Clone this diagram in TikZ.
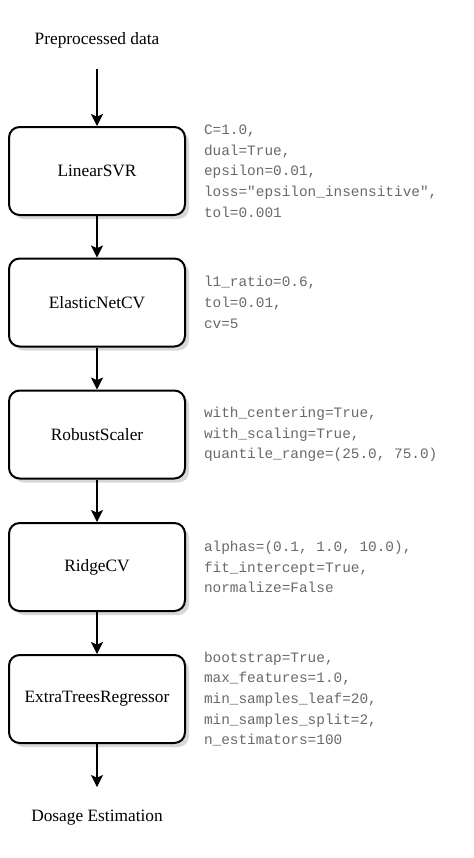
\documentclass[tikz,border=0pt]{standalone}
\usepackage{fontspec}
\setmainfont{Liberation Serif}
\newfontfamily\parfont{Liberation Mono}
\usetikzlibrary{arrows.meta,positioning,shadows}
\definecolor{pargray}{RGB}{105,105,105}
\tikzset{
  model/.style={draw,line width=1.5pt,rounded corners=8pt,fill=white,
    minimum width=132pt,minimum height=66pt,font=\fontsize{13}{15}\selectfont,
    drop shadow={shadow xshift=3pt,shadow yshift=-3pt,fill=black!30}},
  params/.style={align=left,text=pargray,font=\parfont\fontsize{10.8}{15.5}\selectfont},
  lbl/.style={font=\fontsize{13}{15}\selectfont},
  arr/.style={-{Stealth[length=9pt,width=9pt,inset=2pt]},line width=1.2pt}
}
\begin{document}
\begin{tikzpicture}[x=0.75pt,y=-0.75pt]
\useasboundingbox(0,0) rectangle (474,858);
\node[lbl] (in) at (97,40){Preprocessed data};
\node[model] (svr) at (97,171){LinearSVR};
\node[model] (enet) at (97,302.5){ElasticNetCV};
\node[model] (rs) at (97,434.5){RobustScaler};
\node[model] (ridge) at (97,567){RidgeCV};
\node[model] (etr) at (97,699){ExtraTreesRegressor};
\node[lbl] (out) at (97,818){Dosage Estimation};
\node[params,right=10pt of svr] (svrp){C=1.0,\\dual=True,\\epsilon=0.01,\\loss="epsilon\_insensitive",\\tol=0.001};
\node[params,right=10pt of enet] (enetp){l1\_ratio=0.6,\\tol=0.01,\\cv=5};
\node[params,right=10pt of rs] (rsp){with\_centering=True,\\with\_scaling=True,\\quantile\_range=(25.0, 75.0)};
\node[params,right=10pt of ridge] (ridgep){alphas=(0.1, 1.0, 10.0),\\fit\_intercept=True,\\normalize=False};
\node[params,right=10pt of etr] (etrp){bootstrap=True,\\max\_features=1.0,\\min\_samples\_leaf=20,\\min\_samples\_split=2,\\n\_estimators=100};
\draw[arr,shorten <=12pt](in)--(svr);
\draw[arr](svr)--(enet);
\draw[arr](enet)--(rs);
\draw[arr](rs)--(ridge);
\draw[arr](ridge)--(etr);
\draw[arr,shorten >=14pt](etr)--(out);
\end{tikzpicture}
\end{document}
